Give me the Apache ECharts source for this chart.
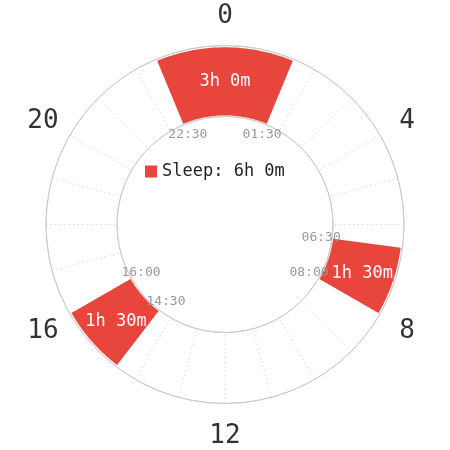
<!DOCTYPE html>
<html><head><meta charset="utf-8">
<script src="https://cdn.jsdelivr.net/npm/echarts@6/dist/echarts.min.js"></script>
<style>html,body{margin:0;padding:0;background:#fff}#c{width:450px;height:450px}</style>
</head><body><div id="c"></div>
<script>
const seriesName = 'Sleep';
const sleepStart = [22.5, 6.5, 14.5];
const sleepEnd = [1.5, 8.0, 16.0];
const hourTicks = [0, 4, 8, 12, 16, 20];

const RED = '#e8453c';
const MONO = '"DejaVu Sans Mono", monospace';

function fmtClock(h){ h = ((h % 24) + 24) % 24; const hh = Math.floor(h), mm = Math.round((h - hh) * 60); return String(hh).padStart(2,'0') + ':' + String(mm).padStart(2,'0'); }
function fmtDur(d){ const hh = Math.floor(d), mm = Math.round((d - hh) * 60); return hh + 'h ' + mm + 'm'; }
function dur(i){ let e = sleepEnd[i]; if (e < sleepStart[i]) e += 24; return e - sleepStart[i]; }

const segData = sleepStart.map((s, i) => [s, s + dur(i)]);
const total = sleepStart.reduce((a, s, i) => a + dur(i), 0);

const chart = echarts.init(document.getElementById('c'));
chart.setOption({
  animation: false,
  legend: {
    data: [{name: seriesName, icon: 'rect'}],
    top: 158, left: 140,
    itemWidth: 12, itemHeight: 12, itemGap: 5,
    formatter: () => seriesName + ': ' + fmtDur(total),
    textStyle: {fontSize: 17, fontFamily: MONO, color: '#222'}
  },
  polar: {center: [225, 224.5], radius: [108, 179]},
  angleAxis: {
    type: 'value', min: 0, max: 24, interval: 1, startAngle: 90, clockwise: true,
    axisLine: {show: true, lineStyle: {color: '#ccc', width: 1}},
    axisTick: {show: false}, axisLabel: {show: false},
    splitLine: {show: true, lineStyle: {color: '#d6d6d6', type: [1.5, 3], width: 1}}
  },
  radiusAxis: {
    type: 'value', min: 0, max: 1, interval: 1,
    axisLine: {show: false}, axisTick: {show: false}, axisLabel: {show: false},
    splitLine: {show: true, lineStyle: {color: '#ccc', width: 1}}
  },
  series: [
    {
      name: seriesName, type: 'custom', coordinateSystem: 'polar', color: RED,
      itemStyle: {color: RED},
      data: segData,
      renderItem: function (params, api) {
        const s = api.value(0), e = api.value(1);
        const pts = [];
        const n = 40;
        for (let k = 0; k <= n; k++) pts.push(api.coord([0.975, s + (e - s) * k / n]));
        for (let k = n; k >= 0; k--) pts.push(api.coord([0.015, s + (e - s) * k / n]));
        const mid = api.coord([0.52, (s + e) / 2]);
        const p0 = api.coord([-0.155, s]);
        const p1 = api.coord([-0.155, e]);
        const tStyle = {fill: '#999', fontSize: 13, fontFamily: MONO, align: 'center', verticalAlign: 'middle'};
        return {type: 'group', children: [
          {type: 'polygon', shape: {points: pts}, style: {fill: RED}},
          {type: 'text', x: mid[0], y: mid[1] + 2, style: {text: fmtDur(e - s), fill: '#fff', fontSize: 17, fontFamily: MONO, align: 'center', verticalAlign: 'middle'}},
          {type: 'text', x: p0[0], y: p0[1], style: Object.assign({text: fmtClock(s)}, tStyle)},
          {type: 'text', x: p1[0], y: p1[1], style: Object.assign({text: fmtClock(e)}, tStyle)}
        ]};
      }
    },
    {
      name: 'hours', type: 'custom', coordinateSystem: 'polar',
      data: hourTicks.map(h => [h]),
      renderItem: function (params, api) {
        const h = api.value(0);
        const p = api.coord([1.44, h]);
        return {type: 'text', x: p[0], y: p[1] + 2, style: {text: String(h), fill: '#333', fontSize: 26, fontFamily: MONO, align: 'center', verticalAlign: 'middle'}};
      }
    }
  ]
});
</script></body></html>
